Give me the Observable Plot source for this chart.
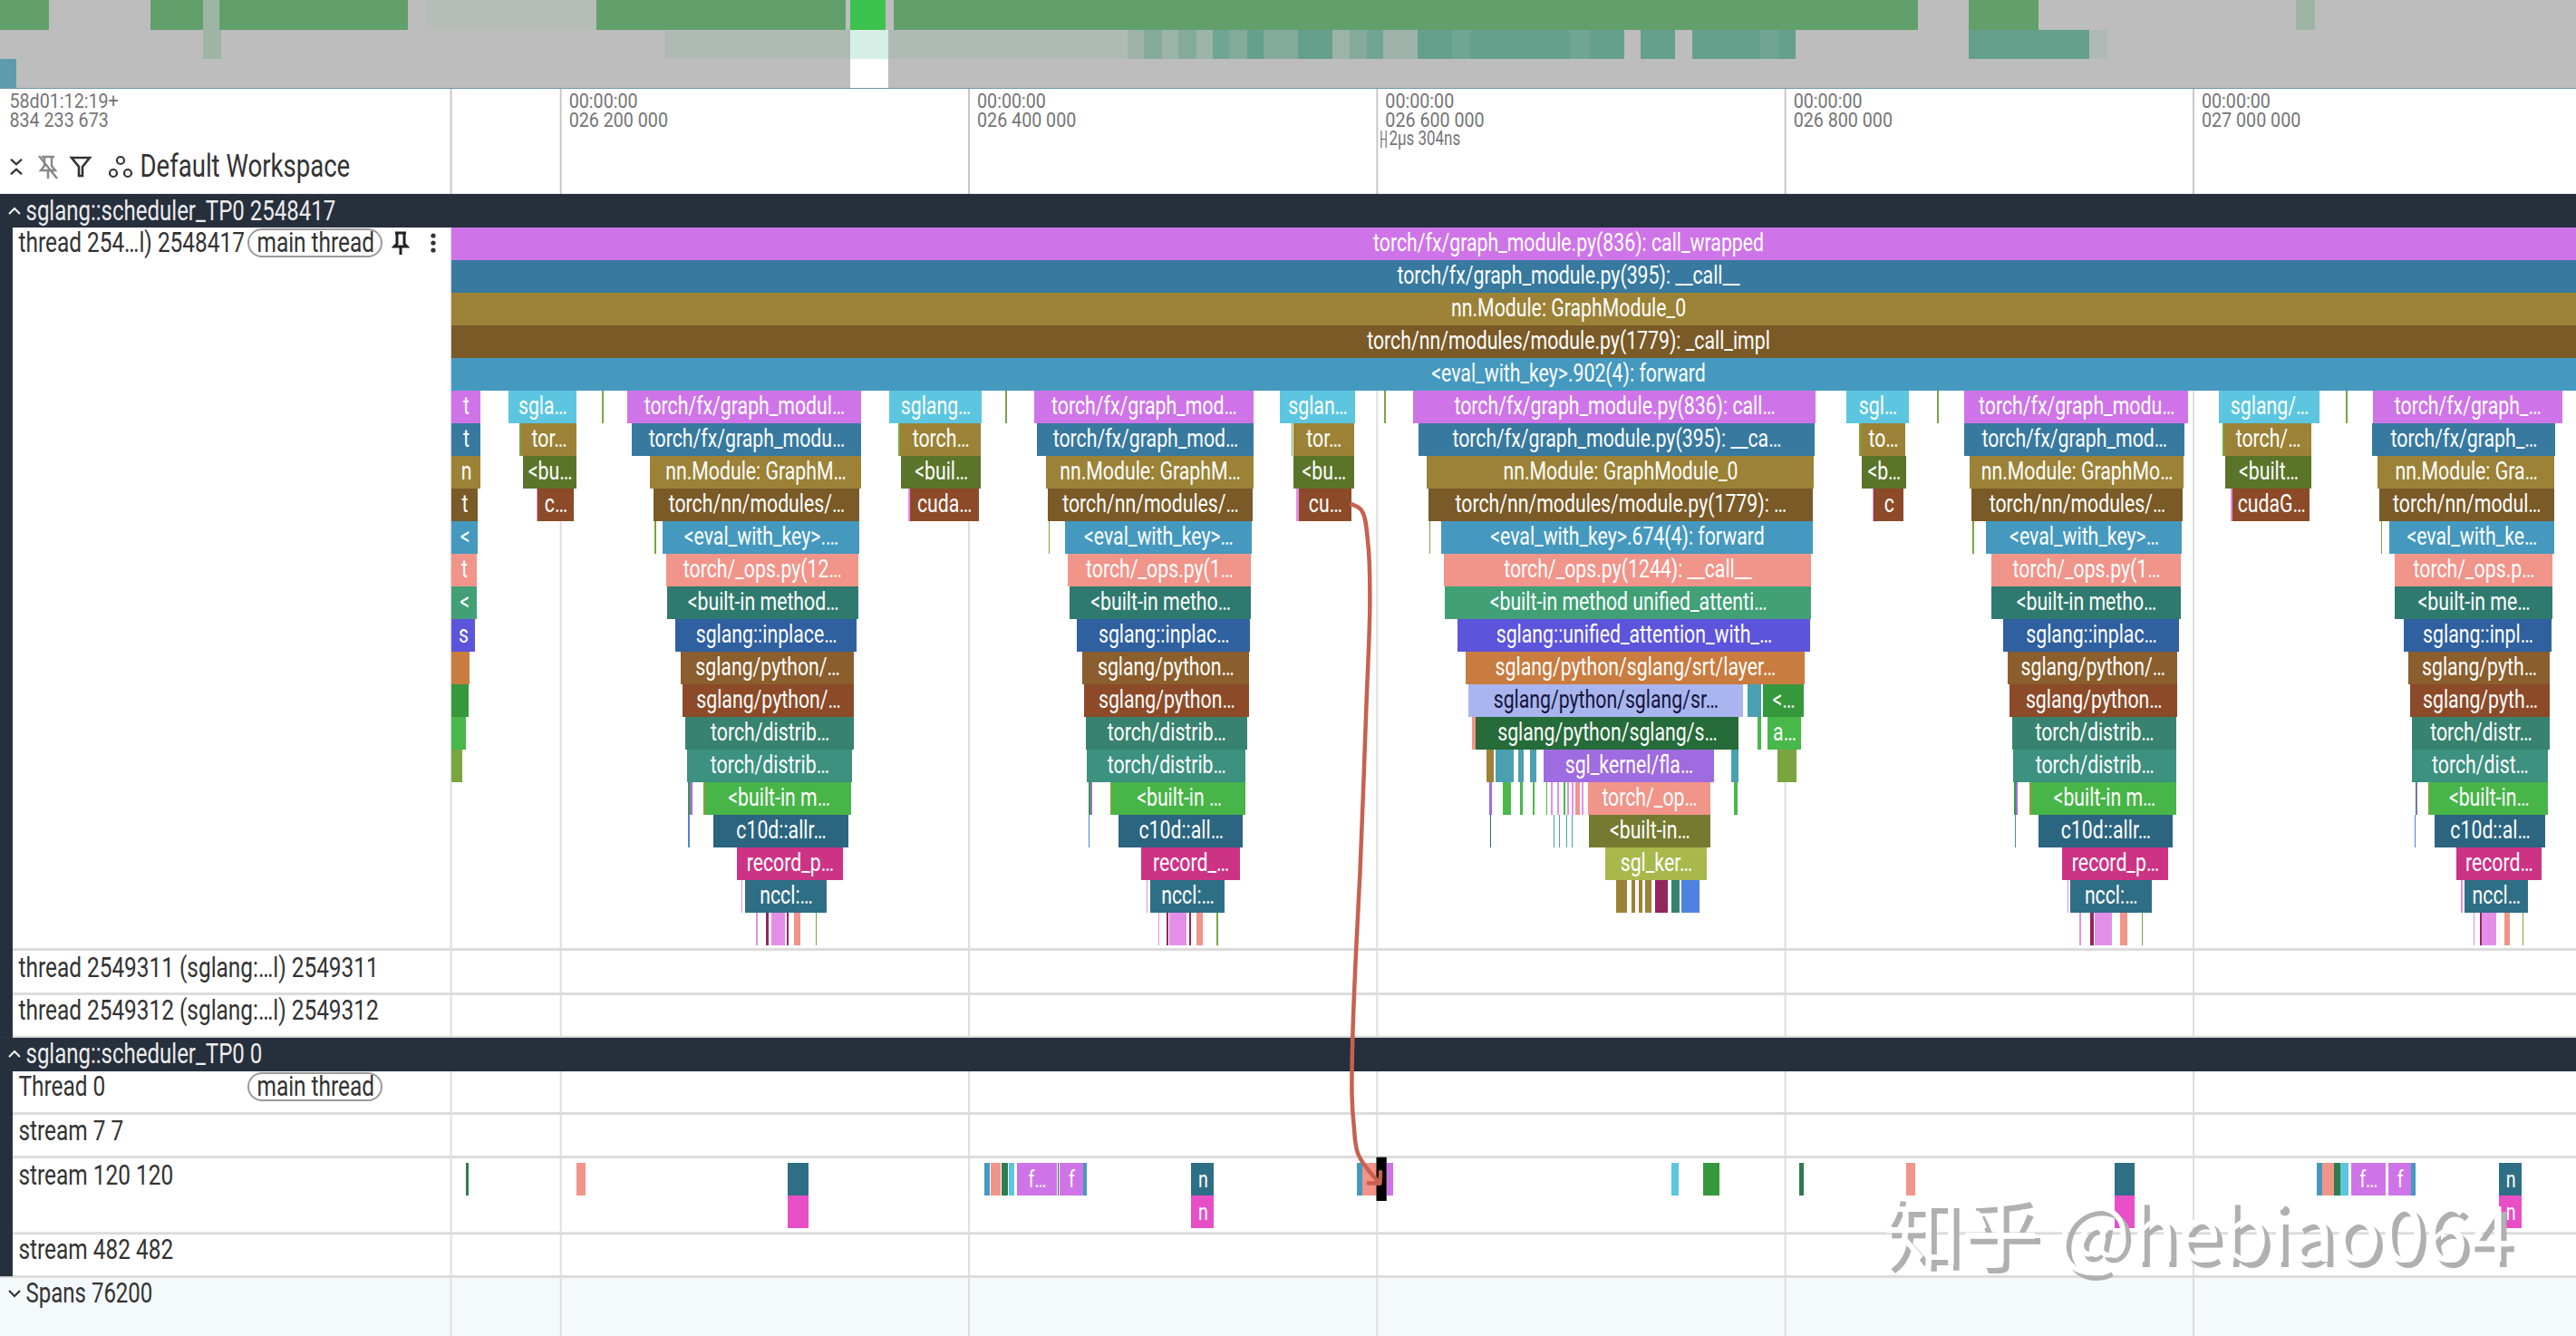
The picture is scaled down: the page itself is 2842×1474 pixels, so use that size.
<!DOCTYPE html>
<html>
<head>
<meta charset="utf-8">
<script src="https://cdn.jsdelivr.net/npm/d3@7"></script>
<script src="https://cdn.jsdelivr.net/npm/@observablehq/plot@0.6"></script>
<style>
  html, body { margin: 0; padding: 0; background: #fff; overflow: hidden; }
  #page { position: relative; width: 2842px; height: 1474px; }
  #page svg.chart { display: block; }
  .pill { position: absolute; left: 273px; width: 145px; height: 28px; border: 2px solid #9a9a9a; border-radius: 16px; }
  .icon { position: absolute; fill: none; }
</style>
</head>
<body>
<div id="page"></div>
<script>
// time is in microseconds since the trace origin, rows are flame chart depths
const viewDomain = [25925, 27187.2];
const viewStart = 26146.2;
const gridTicks = [26200, 26400, 26600, 26800, 27000];
const gridLabels = ["026 200 000", "026 400 000", "026 600 000", "026 800 000", "027 000 000"];
const cursorSpan = [26601.6, 26603.9];

const kinds = ["wrapped", "dunder", "module", "impl", "eval", "ops", "builtin", "builtinAlt", "inplace", "unified", "srtBrown", "srtRed", "dist", "dist2", "builtinGreen", "c10d", "record", "nccl", "sglang", "builtinDark", "layer", "attn", "attnDark", "kernel", "builtinOlive", "kernelOlive", "grass", "lime", "moss", "magenta", "lilac", "tealBlue", "maroon", "royal", "pine"];
const kindColors = ["#cf74e8", "#37799f", "#9c8236", "#7a5a27", "#4599bf", "#f1948a", "#2f7a6e", "#41a076", "#2f609f", "#5d54dc", "#8a5e2d", "#8c4a28", "#37836f", "#3c917f", "#47b548", "#2b6580", "#cc3384", "#2f6f85", "#5cc6e0", "#5a742a", "#c97c3f", "#a9b5ee", "#266b3a", "#9f6be0", "#757a30", "#a8b84b", "#36983d", "#48b84a", "#7aa53f", "#e84fc7", "#e38fe8", "#4aa0b0", "#93265f", "#4f82e0", "#2e7d4f"];

// [row, start, end, label, kind]
const rootFrames = [
  [0, 26146.2, 27240.5, "torch/fx/graph_module.py(836): call_wrapped", "wrapped"],
  [1, 26146.2, 27240.5, "torch/fx/graph_module.py(395): __call__", "dunder"],
  [2, 26146.2, 27240.5, "nn.Module: GraphModule_0", "module"],
  [3, 26146.2, 27240.5, "torch/nn/modules/module.py(1779): _call_impl", "impl"],
  [4, 26146.2, 27240.5, "<eval_with_key>.902(4): forward", "eval"]
];
const edgeFrames = [
  [5, 26146.2, 26160.4, "t", "wrapped"], [6, 26146.2, 26160.4, "t", "dunder"], [7, 26146.2, 26160.4, "n", "module"],
  [8, 26146.2, 26159.1, "t", "impl"], [9, 26146.2, 26159.1, "<", "eval"], [10, 26146.2, 26158.6, "t", "ops"],
  [11, 26146.2, 26158.6, "<", "builtinAlt"], [12, 26146.2, 26157.7, "s", "unified"], [13, 26146.2, 26155.1, "", "layer"],
  [14, 26146.2, 26154.6, "", "grass"], [15, 26146.2, 26153.5, "", "lime"], [16, 26146.2, 26151.5, "", "moss"]
];
const cudaFrames = [
  [5, 26174.0, 26207.5, "sgla…", "sglang"], [6, 26179.3, 26180.2, "", "moss"], [6, 26180.4, 26207.5, "tor…", "module"],
  [7, 26181.3, 26207.5, "<bu…", "builtinDark"], [8, 26187.7, 26188.4, "", "lilac"], [8, 26188.4, 26206.1, "c…", "srtRed"],
  [5, 26219.9, 26220.8, "", "moss"],
  [5, 26360.7, 26406.0, "sglang…", "sglang"], [6, 26365.0, 26365.8, "", "moss"], [6, 26366.0, 26405.7, "torch…", "module"],
  [7, 26366.5, 26405.7, "<buil…", "builtinDark"], [8, 26370.0, 26370.7, "", "lilac"], [8, 26370.7, 26404.6, "cuda…", "srtRed"],
  [5, 26417.5, 26418.4, "", "moss"],
  [5, 26552.1, 26589.0, "sglan…", "sglang"], [6, 26557.8, 26558.4, "", "moss"], [6, 26558.6, 26588.5, "tor…", "module"],
  [7, 26558.6, 26588.5, "<bu…", "builtinDark"], [8, 26560.3, 26561.3, "", "lilac"], [8, 26561.3, 26587.2, "cu…", "srtRed"],
  [5, 26603.2, 26604.1, "", "moss"],
  [5, 26829.7, 26860.3, "sgl…", "sglang"], [6, 26836.0, 26836.6, "", "moss"], [6, 26836.8, 26858.5, "to…", "module"],
  [7, 26837.2, 26858.9, "<b…", "builtinDark"], [8, 26842.4, 26843.2, "", "lilac"], [8, 26843.2, 26857.7, "c", "srtRed"],
  [5, 26874.1, 26875.0, "", "moss"],
  [5, 27012.2, 27061.5, "sglang/…", "sglang"], [6, 27014.0, 27014.7, "", "moss"], [6, 27014.9, 27057.5, "torch/…", "module"],
  [7, 27015.3, 27057.5, "<built…", "builtinDark"], [8, 27018.2, 27018.9, "", "lilac"], [8, 27018.9, 27056.8, "cudaG…", "srtRed"],
  [5, 27074.4, 27075.3, "", "moss"]
];
const stackOne = [
  [5, 26232.3, 26346.9, "torch/fx/graph_modul…", "wrapped"], [6, 26234.6, 26346.9, "torch/fx/graph_modu…", "dunder"],
  [7, 26243.4, 26346.9, "nn.Module: GraphM…", "module"], [8, 26245.2, 26346.0, "torch/nn/modules/…", "impl"],
  [9, 26245.8, 26246.6, "", "moss"], [9, 26249.7, 26346.0, "<eval_with_key>.…", "eval"],
  [10, 26251.4, 26345.4, "torch/_ops.py(12…", "ops"], [11, 26251.9, 26345.6, "<built-in method…", "builtin"],
  [12, 26255.9, 26344.7, "sglang::inplace…", "inplace"], [13, 26258.5, 26343.4, "sglang/python/…", "srtBrown"],
  [14, 26259.4, 26343.4, "sglang/python/…", "srtRed"], [15, 26260.8, 26343.4, "torch/distrib…", "dist"],
  [16, 26261.5, 26342.5, "torch/distrib…", "dist2"], [17, 26262.1, 26263.0, "", "grass"], [17, 26263.0, 26264.1, "", "kernel"],
  [17, 26269.6, 26270.9, "", "moss"], [17, 26270.9, 26342.2, "<built-in m…", "builtinGreen"],
  [18, 26262.3, 26262.9, "", "royal"], [18, 26274.5, 26340.7, "c10d::allr…", "c10d"],
  [19, 26285.9, 26338.0, "record_p…", "record"], [20, 26288.1, 26288.7, "", "lilac"], [20, 26290.1, 26330.0, "nccl:…", "nccl"],
  [21, 26295.6, 26296.2, "", "lilac"], [21, 26300.3, 26301.8, "", "maroon"], [21, 26302.9, 26309.4, "", "lilac"],
  [21, 26310.5, 26311.6, "", "maroon"], [21, 26314.0, 26317.2, "", "ops"], [21, 26324.7, 26325.3, "", "moss"]
];
const stackTwo = [
  [5, 26431.7, 26539.2, "torch/fx/graph_mod…", "wrapped"], [6, 26433.1, 26539.2, "torch/fx/graph_mod…", "dunder"],
  [7, 26437.5, 26539.2, "nn.Module: GraphM…", "module"], [8, 26438.4, 26538.8, "torch/nn/modules/…", "impl"],
  [9, 26438.8, 26439.3, "", "moss"], [9, 26446.8, 26538.3, "<eval_with_key>…", "eval"],
  [10, 26448.2, 26537.9, "torch/_ops.py(1…", "ops"], [11, 26449.1, 26537.9, "<built-in metho…", "builtin"],
  [12, 26452.8, 26537.4, "sglang::inplac…", "inplace"], [13, 26455.3, 26536.8, "sglang/python…", "srtBrown"],
  [14, 26456.2, 26536.8, "sglang/python…", "srtRed"], [15, 26456.9, 26536.1, "torch/distrib…", "dist"],
  [16, 26457.5, 26535.4, "torch/distrib…", "dist2"], [17, 26458.4, 26459.3, "", "grass"], [17, 26459.3, 26460.2, "", "kernel"],
  [17, 26469.0, 26469.9, "", "moss"], [17, 26469.9, 26535.4, "<built-in …", "builtinGreen"],
  [18, 26458.4, 26458.9, "", "royal"], [18, 26473.0, 26534.1, "c10d::all…", "c10d"],
  [19, 26484.2, 26532.6, "record_…", "record"], [20, 26486.8, 26487.4, "", "lilac"], [20, 26488.4, 26525.2, "nccl:…", "nccl"],
  [21, 26492.4, 26492.9, "", "lilac"], [21, 26496.5, 26497.5, "", "maroon"], [21, 26497.9, 26506.4, "", "lilac"],
  [21, 26507.5, 26508.6, "", "maroon"], [21, 26511.2, 26514.2, "", "ops"], [21, 26521.2, 26521.7, "", "moss"]
];
const stackWide = [
  [5, 26617.4, 26814.6, "torch/fx/graph_module.py(836): call…", "wrapped"], [6, 26620.0, 26814.1, "torch/fx/graph_module.py(395): __ca…", "dunder"],
  [7, 26624.0, 26813.7, "nn.Module: GraphModule_0", "module"], [8, 26624.9, 26813.2, "torch/nn/modules/module.py(1779): …", "impl"],
  [9, 26625.4, 26626.0, "", "moss"], [9, 26631.2, 26813.2, "<eval_with_key>.674(4): forward", "eval"],
  [10, 26632.5, 26812.4, "torch/_ops.py(1244): __call__", "ops"], [11, 26632.9, 26812.4, "<built-in method unified_attenti…", "builtinAlt"],
  [12, 26639.1, 26811.9, "sglang::unified_attention_with_…", "unified"], [13, 26643.1, 26809.2, "sglang/python/sglang/srt/layer…", "layer"],
  [14, 26644.5, 26778.9, "sglang/python/sglang/sr…", "attn"], [14, 26781.3, 26787.9, "", "tealBlue"], [14, 26788.8, 26808.8, "<…", "grass"],
  [15, 26646.1, 26648.0, "", "ops"], [15, 26648.0, 26776.8, "sglang/python/sglang/s…", "attnDark"],
  [15, 26786.1, 26787.9, "", "lime"], [15, 26790.9, 26807.6, "a…", "lime"],
  [16, 26653.4, 26656.9, "", "module"], [16, 26657.8, 26666.5, "", "tealBlue"], [16, 26668.9, 26671.6, "", "tealBlue"],
  [16, 26674.9, 26677.8, "", "tealBlue"], [16, 26681.3, 26764.8, "sgl_kernel/fla…", "kernel"], [16, 26773.3, 26776.8, "", "tealBlue"],
  [16, 26795.9, 26805.2, "", "moss"],
  [17, 26654.9, 26656.0, "", "kernel"], [17, 26661.4, 26665.4, "", "lime"], [17, 26669.8, 26671.1, "", "lime"], [17, 26676.0, 26676.9, "", "lime"],
  [17, 26682.5, 26683.2, "", "lime"], [17, 26685.0, 26686.0, "", "lilac"], [17, 26688.0, 26689.0, "", "lilac"], [17, 26691.0, 26692.0, "", "lime"],
  [17, 26693.0, 26694.0, "", "lilac"], [17, 26695.0, 26696.0, "", "lilac"], [17, 26697.0, 26699.0, "", "ops"], [17, 26700.0, 26701.0, "", "lilac"],
  [17, 26703.1, 26763.1, "torch/_op…", "ops"], [17, 26774.6, 26776.4, "", "lime"],
  [18, 26655.1, 26655.7, "", "c10d"], [18, 26686.2, 26686.7, "", "tealBlue"], [18, 26688.9, 26689.4, "", "tealBlue"],
  [18, 26692.4, 26692.9, "", "tealBlue"], [18, 26694.9, 26695.4, "", "tealBlue"], [18, 26703.5, 26762.9, "<built-in…", "builtinOlive"],
  [19, 26711.5, 26761.3, "sgl_ker…", "kernelOlive"],
  [20, 26716.9, 26722.2, "", "module"], [20, 26724.4, 26726.4, "", "module"], [20, 26728.0, 26729.7, "", "module"],
  [20, 26731.3, 26734.2, "", "module"], [20, 26736.0, 26742.4, "", "maroon"], [20, 26744.0, 26748.0, "", "dist"], [20, 26748.9, 26757.7, "", "royal"]
];
const stackFour = [
  [5, 26887.4, 26997.3, "torch/fx/graph_modu…", "wrapped"], [6, 26887.2, 26995.3, "torch/fx/graph_mod…", "dunder"],
  [7, 26890.1, 26994.9, "nn.Module: GraphMo…", "module"], [8, 26891.0, 26994.4, "torch/nn/modules/…", "impl"],
  [9, 26891.6, 26892.2, "", "moss"], [9, 26898.1, 26994.0, "<eval_with_key>…", "eval"],
  [10, 26900.7, 26993.6, "torch/_ops.py(1…", "ops"], [11, 26900.7, 26993.6, "<built-in metho…", "builtin"],
  [12, 26906.5, 26992.7, "sglang::inplac…", "inplace"], [13, 26908.7, 26992.0, "sglang/python/…", "srtBrown"],
  [14, 26909.6, 26992.0, "sglang/python…", "srtRed"], [15, 26911.0, 26991.3, "torch/distrib…", "dist"],
  [16, 26911.2, 26991.3, "torch/distrib…", "dist2"], [17, 26911.9, 26912.8, "", "grass"], [17, 26912.8, 26913.6, "", "kernel"],
  [17, 26919.2, 26920.7, "", "moss"], [17, 26920.7, 26991.3, "<built-in m…", "builtinGreen"],
  [18, 26912.3, 26912.8, "", "royal"], [18, 26923.7, 26989.6, "c10d::allr…", "c10d"],
  [19, 26935.4, 26987.3, "record_p…", "record"], [20, 26938.0, 26938.6, "", "lilac"], [20, 26939.2, 26979.2, "nccl:…", "nccl"],
  [21, 26944.0, 26944.5, "", "lilac"], [21, 26949.2, 26950.9, "", "maroon"], [21, 26951.2, 26960.0, "", "lilac"],
  [21, 26963.6, 26967.2, "", "ops"], [21, 26974.5, 26975.0, "", "moss"]
];
const stackFive = [
  [5, 27087.5, 27180.5, "torch/fx/graph_…", "wrapped"], [6, 27087.3, 27177.0, "torch/fx/graph_…", "dunder"],
  [7, 27089.9, 27176.7, "nn.Module: Gra…", "module"], [8, 27090.8, 27176.4, "torch/nn/modul…", "impl"],
  [9, 27091.7, 27092.2, "", "moss"], [9, 27095.7, 27176.4, "<eval_with_ke…", "eval"],
  [10, 27098.4, 27175.6, "torch/_ops.p…", "ops"], [11, 27098.4, 27175.6, "<built-in me…", "builtin"],
  [12, 27102.8, 27175.2, "sglang::inpl…", "inplace"], [13, 27105.0, 27174.3, "sglang/pyth…", "srtBrown"],
  [14, 27105.9, 27174.3, "sglang/pyth…", "srtRed"], [15, 27106.8, 27174.3, "torch/distr…", "dist"],
  [16, 27106.8, 27173.4, "torch/dist…", "dist2"], [17, 27108.4, 27109.0, "", "grass"], [17, 27109.0, 27109.5, "", "kernel"],
  [17, 27114.8, 27115.5, "", "moss"], [17, 27115.5, 27173.4, "<built-in…", "builtinGreen"],
  [18, 27108.0, 27108.5, "", "royal"], [18, 27117.9, 27172.1, "c10d::al…", "c10d"],
  [19, 27128.4, 27170.3, "record…", "record"], [20, 27131.0, 27131.6, "", "lilac"], [20, 27132.4, 27163.6, "nccl…", "nccl"],
  [21, 27136.8, 27137.3, "", "lilac"], [21, 27140.0, 27141.0, "", "maroon"], [21, 27141.2, 27148.0, "", "lilac"],
  [21, 27152.0, 27154.8, "", "ops"], [21, 27160.8, 27161.3, "", "moss"]
];
// stream 120 lanes sit at rows 28.67 and 29.67
const streamFrames = [
  [28.67, 26153.1, 26154.4, "", "pine"], [28.67, 26207.5, 26211.9, "", "ops"], [28.67, 26310.8, 26321.0, "", "nccl"], [29.67, 26310.8, 26321.0, "", "magenta"],
  [28.67, 26407.3, 26409.8, "", "eval"], [28.67, 26410.6, 26415.3, "", "ops"], [28.67, 26415.8, 26418.7, "", "pine"], [28.67, 26419.1, 26422.0, "", "sglang"],
  [28.67, 26423.3, 26442.8, "f…", "wrapped"], [28.67, 26443.3, 26443.8, "", "attnDark"], [28.67, 26444.2, 26455.7, "f", "wrapped"], [28.67, 26455.7, 26457.4, "", "eval"],
  [28.67, 26508.8, 26519.8, "n", "nccl"], [29.67, 26508.8, 26519.8, "n", "magenta"],
  [28.67, 26589.7, 26592.5, "", "eval"], [28.67, 26592.5, 26599.8, "", "ops"], [28.67, 26604.4, 26607.6, "", "wrapped"],
  [28.67, 26744.0, 26747.3, "", "sglang"], [28.67, 26759.5, 26767.7, "", "grass"], [28.67, 26806.6, 26808.6, "", "pine"], [28.67, 26858.8, 26863.3, "", "ops"],
  [28.67, 26961.3, 26970.7, "", "nccl"], [29.67, 26961.3, 26970.7, "", "magenta"],
  [28.67, 27060.2, 27063.0, "", "eval"], [28.67, 27063.0, 27068.4, "", "ops"], [28.67, 27068.6, 27071.6, "", "pine"], [28.67, 27071.6, 27075.7, "", "sglang"],
  [28.67, 27076.9, 27093.9, "f…", "wrapped"], [28.67, 27095.3, 27106.4, "f", "wrapped"], [28.67, 27106.4, 27108.4, "", "eval"],
  [28.67, 27149.6, 27160.6, "n", "nccl"], [29.67, 27149.6, 27160.6, "n", "magenta"]
];
const selectedSlice = [26599.4, 26604.4];

const flowTimes = [26587.2, 26592.1, 26595.2, 26596.0, 26594.3, 26591.2, 26589.0, 26587.6, 26587.2, 26588.1, 26590.3, 26599.6];
const flowRows = [8.47, 8.67, 9.75, 11.5, 14.58, 19.72, 22.47, 24.69, 26.56, 27.47, 28.39, 29.19];

const separatorRows = [22.11, 23.47, 24.8, 27.14, 28.47, 30.81, 32.14];
const headerNames = ["sglang::scheduler_TP0 2548417", "sglang::scheduler_TP0 0", "Spans 76200"];
const headerRows = [-0.5, 25.33, 32.67];
const headerBands = [[-1.03, 0], [24.83, 25.86]];
const threadNames = ["thread 254…l) 2548417", "thread 2549311 (sglang:…l) 2549311", "thread 2549312 (sglang:…l) 2549312", "Thread 0", "stream 7 7", "stream 120 120", "stream 482 482"];
const threadRows = [0.47, 22.69, 24.0, 26.33, 27.67, 29.03, 31.33];
const mainThreadRows = [0.47, 26.33];

// overview minimap: [lane, start, end, tone], start and end in permille of the trace
const overviewTones = ["idle", "busy", "faint", "veil", "rise", "thin", "mid", "dense", "denser", "view", "viewLane", "viewEmpty", "head"];
const overviewColors = ["#bdbdbd", "#62a06b", "#9fb5a3", "#b6bcb6", "#b0bab5", "#9db3a9", "#84aa9b", "#6fa592", "#64a08c", "#3cc24e", "#d6efe6", "#ffffff", "#5f9bad"];
const overviewBins = [
  [0, 0, 1000, "idle"], [1, 0, 1000, "idle"], [2, 0, 1000, "idle"],
  [0, 0, 19, "busy"], [0, 58.4, 78.8, "busy"], [0, 78.8, 85.2, "faint"], [0, 85.2, 158.3, "busy"], [0, 165.4, 231.5, "veil"], [0, 231.5, 328.3, "busy"],
  [0, 330, 343.8, "view"], [0, 346.9, 744.6, "busy"], [0, 764.3, 791.3, "busy"], [0, 891.3, 898.7, "faint"],
  [1, 78.8, 85.9, "faint"], [1, 258.3, 330, "rise"], [1, 330, 344.8, "viewLane"], [1, 344.8, 437.7, "rise"], [1, 437.7, 444.1, "thin"], [1, 444.1, 451.2, "mid"],
  [1, 451.2, 457.6, "thin"], [1, 457.6, 464.4, "mid"], [1, 464.4, 470.8, "thin"], [1, 470.8, 477.2, "dense"], [1, 477.2, 484.2, "mid"], [1, 484.2, 490.6, "denser"],
  [1, 490.6, 503.8, "mid"], [1, 503.8, 517.3, "denser"], [1, 517.3, 524.1, "thin"], [1, 524.1, 530.5, "mid"], [1, 530.5, 536.9, "dense"], [1, 536.9, 550.3, "thin"],
  [1, 550.3, 563.6, "denser"], [1, 563.6, 570.6, "dense"], [1, 570.6, 609.4, "denser"], [1, 609.4, 617.3, "dense"], [1, 617.3, 630.7, "denser"],
  [1, 636.7, 650.4, "denser"], [1, 656.8, 683.4, "denser"], [1, 683.4, 690.5, "dense"], [1, 690.5, 696.9, "denser"], [1, 764.3, 811, "denser"], [1, 811, 818, "rise"],
  [2, 0, 6.3, "head"], [2, 330, 344.8, "viewEmpty"]
];

const toFrame = ([row, start, end, label, kind]) => ({row, start, end, label, kind});
const frames = [rootFrames, edgeFrames, cudaFrames, stackOne, stackTwo, stackWide, stackFour, stackFive].flat().map(toFrame);
const stream = streamFrames.map(toFrame);
const flow = flowTimes.map((t, i) => ({t, row: flowRows[i]}));
const ui = "Roboto, sans-serif";

const overview = Plot.plot({
  width: 2842, height: 98, marginTop: 0, marginRight: 0, marginBottom: 0, marginLeft: 0,
  x: {axis: null, domain: [0, 1000]},
  y: {axis: null, domain: [0, 3], range: [0, 98]},
  color: {domain: overviewTones, range: overviewColors},
  marks: [
    Plot.rect(overviewBins.map(([lane, start, end, tone]) => ({lane, start, end, tone})), {
      x1: "start", x2: "end", y1: "lane", y2: (d) => d.lane + 1, fill: "tone", shapeRendering: "crispEdges"
    }),
    Plot.ruleY([3], {stroke: "#6d97a5", strokeWidth: 3})
  ]
});

const main = Plot.plot({
  width: 2842, height: 1376, marginTop: 0, marginRight: 0, marginBottom: 0, marginLeft: 0,
  style: {fontFamily: ui},
  x: {axis: null, domain: viewDomain},
  y: {axis: null, domain: [-4.25, 33.97], range: [0, 1376]},
  color: {domain: kinds, range: kindColors},
  marks: [
    // chrome: spans background, separators and grid sit under the slices
    Plot.rectY([0], {y1: 32.14, y2: 33.97, fill: "#f4f9fc"}),
    Plot.ruleX(gridTicks.concat(viewStart), {y1: -4.25, y2: -1.03, stroke: "#c8c8c8", strokeWidth: 2, dx: -1}),
    Plot.ruleX(gridTicks.concat(viewStart), {y1: 0, y2: 33.97, stroke: "#dedede", strokeWidth: 2, dx: -1}),
    Plot.ruleY(separatorRows, {stroke: "#dcdcdc", strokeWidth: 3}),
    Plot.rect([[0, 24.83], [25.86, 32.14]], {x1: viewDomain[0], x2: viewDomain[0] + 6.2, y1: (d) => d[0], y2: (d) => d[1], fill: "#262f3c"}),
    Plot.rectY(headerBands, {y1: (d) => d[0], y2: (d) => d[1], fill: "#262f3c"}),

    // flame chart
    Plot.rect(frames, {x1: "start", x2: "end", y1: "row", y2: (d) => d.row + 1, fill: "kind", clip: "frame", shapeRendering: "crispEdges"}),
    Plot.text(frames.filter((d) => d.label), {
      x: (d) => (d.start + d.end) / 2, y: (d) => d.row + 0.5, dy: -1.5, text: "label",
      fill: (d) => (d.kind === "attn" ? "#14143a" : "#fff"), fontSize: 27
    }),
    Plot.rect(stream, {x1: "start", x2: "end", y1: "row", y2: (d) => d.row + 1, fill: "kind", shapeRendering: "crispEdges"}),
    Plot.text(stream.filter((d) => d.label), {
      x: (d) => (d.start + d.end) / 2, y: (d) => d.row + 0.5, text: "label", fill: "#fff", fontSize: 25
    }),
    Plot.rect([selectedSlice], {x1: (d) => d[0], x2: (d) => d[1], y1: 28.49, y2: 29.83, fill: "#000"}),
    Plot.line(flow, {x: "t", y: "row", curve: "catmull-rom", stroke: "#c8614f", strokeWidth: 4.5, markerEnd: "arrow"}),

    // time ruler
    Plot.text(["58d01:12:19+"], {frameAnchor: "left", dx: 10, y: -3.87, fill: "#757575", fontSize: 21.5, className: "ruler"}),
    Plot.text(["834 233 673"], {frameAnchor: "left", dx: 10, y: -3.29, fill: "#757575", fontSize: 21.5, className: "ruler"}),
    Plot.text(gridTicks, {x: (d) => d, y: -3.87, text: () => "00:00:00", dx: 8, textAnchor: "start", fill: "#757575", fontSize: 21.5, className: "ruler"}),
    Plot.text(gridTicks, {x: (d) => d, y: -3.29, text: (d, i) => gridLabels[i], dx: 8, textAnchor: "start", fill: "#757575", fontSize: 21.5, className: "ruler"}),
    Plot.ruleX(cursorSpan, {y1: -2.97, y2: -2.44, stroke: "#555"}),
    Plot.ruleY([-2.72], {x1: cursorSpan[0], x2: cursorSpan[1], stroke: "#555"}),
    Plot.text(["2μs 304ns"], {x: 26605.4, y: -2.72, textAnchor: "start", fill: "#757575", fontSize: 21.5}),
    Plot.text(["Default Workspace"], {frameAnchor: "left", dx: 154, y: -1.89, fill: "#333", fontSize: 35}),

    // track labels
    Plot.text(headerNames, {frameAnchor: "left", dx: 28, y: (d, i) => headerRows[i], fill: (d, i) => (i < 2 ? "#ececec" : "#333"), fontSize: 30.5}),
    Plot.text(threadNames, {frameAnchor: "left", dx: 20, y: (d, i) => threadRows[i], fill: "#333", fontSize: 31}),
    Plot.text(mainThreadRows, {frameAnchor: "left", dx: 283, y: (d) => d, text: () => "main thread", fill: "#333", fontSize: 31}),

    // watermark: white text with a grey offset shadow
    Plot.text(["知乎 @hebiao064"], {frameAnchor: "bottom-right", dx: -72, dy: -83, fill: "#fff", fontSize: 86, fontFamily: "Noto Sans CJK SC", className: "watermark"})
  ]
});

overview.classList.add("chart");
main.classList.add("chart");
const page = document.getElementById("page");
page.append(overview, main);

// the trace viewer uses a condensed face, so narrow the installed one
main.querySelectorAll("text").forEach((t) => {
  if (t.closest(".watermark")) {
    t.style.filter = "drop-shadow(6px 6px 0 #b0b0b0)";
    return;
  }
  const squeeze = t.closest(".ruler") ? 0.915 : 0.787;
  t.setAttribute("textLength", t.getComputedTextLength() * squeeze);
  t.setAttribute("lengthAdjust", "spacingAndGlyphs");
});

// toolbar icons and the main thread pills
const icons = [
  [8, 172, 20, 24, '<path d="M4 4l6 6 6-6M4 22l6-6 6 6" stroke="#333" stroke-width="2.4" transform="scale(1 .92)"/>'],
  [38, 170, 32, 28, '<path d="M8 3h14M11 3v10l-4 5h16l-4-5V3M15 18v9M5 2l20 25" stroke="#888" stroke-width="2.4"/>'],
  [76, 172, 28, 24, '<path d="M3 2h20l-8 10v10h-4V12z" stroke="#333" stroke-width="2.6"/>'],
  [118, 170, 30, 30, '<circle cx="15" cy="7" r="4" stroke="#333" stroke-width="2.2"/><circle cx="7" cy="21" r="4" stroke="#333" stroke-width="2.2"/><circle cx="23" cy="21" r="4" stroke="#333" stroke-width="2.2"/>'],
  [8, 226, 16, 14, '<path d="M2 10l6-6 6 6" stroke="#eee" stroke-width="2.2"/>'],
  [8, 1156, 16, 14, '<path d="M2 10l6-6 6 6" stroke="#eee" stroke-width="2.2"/>'],
  [8, 1420, 16, 14, '<path d="M2 4l6 6 6-6" stroke="#333" stroke-width="2.2"/>'],
  [432, 255, 20, 28, '<path d="M4 2h12M6 2v12l-3 3h14l-3-3V2M10 17v9" stroke="#222" stroke-width="3"/>'],
  [472, 256, 12, 26, '<circle cx="6" cy="4" r="2.6" fill="#333"/><circle cx="6" cy="12" r="2.6" fill="#333"/><circle cx="6" cy="20" r="2.6" fill="#333"/>']
];
icons.forEach(([x, y, w, h, body]) => {
  const svg = document.createElementNS("http://www.w3.org/2000/svg", "svg");
  svg.setAttribute("class", "icon");
  svg.setAttribute("width", w);
  svg.setAttribute("height", h);
  svg.style.left = x + "px";
  svg.style.top = y + "px";
  svg.innerHTML = body;
  page.append(svg);
});
[252, 1183].forEach((top) => {
  const pill = document.createElement("div");
  pill.className = "pill";
  pill.style.top = top + "px";
  page.append(pill);
});
</script>
</body>
</html>
